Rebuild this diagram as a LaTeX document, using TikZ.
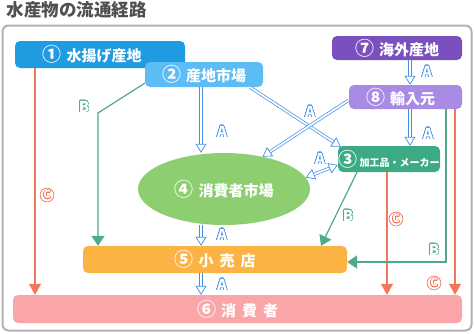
\documentclass[tikz,border=0pt]{standalone}
\usepackage{fontspec}
\setmainfont{Noto Sans CJK JP}
\usepackage[copies]{contour}
\contourlength{0.5pt}
\usetikzlibrary{arrows.meta,shapes.geometric,calc}
\definecolor{fbBlue}{HTML}{1E9BE1}
\definecolor{fbSky}{HTML}{5CBDF6}
\definecolor{fbPurple}{HTML}{7A50BE}
\definecolor{fbLilac}{HTML}{A98AE4}
\definecolor{fbGreen}{HTML}{3CAA84}
\definecolor{fbLeaf}{HTML}{8DCF70}
\definecolor{fbOrange}{HTML}{FBB444}
\definecolor{fbPink}{HTML}{FAA6A8}
\definecolor{fbRed}{HTML}{F3775A}
\definecolor{fbLine}{HTML}{4FAA86}
\definecolor{fbA}{HTML}{3F8FE6}
\definecolor{fbInk}{HTML}{505050}
\newcommand\cnum[1]{{\fontsize{19}{16}\selectfont #1}\hspace{5pt}}

\begin{document}
\begin{tikzpicture}[x=1pt,y=-1pt,
  stage/.style={rounded corners=5pt,text=white,inner sep=0pt,
                font=\bfseries\fontsize{15}{16}\selectfont},
  market/.style={ellipse,fill=fbLeaf,text=white,inner sep=0pt,
                 font=\bfseries\fontsize{15}{16}\selectfont},
  cline/.style={draw=fbRed,line width=1.2pt,-{Triangle[length=11pt,width=12pt]}},
  bline/.style={draw=fbLine,line width=1.2pt,-{Triangle[length=10pt,width=13pt]}},
  aline/.style={draw=fbA,line width=0.7pt,double=white,double distance=1.8pt,
                -{Triangle[open,length=9pt,width=11pt]}},
  lblA/.style={text=white,font=\bfseries\fontsize{15}{16}\selectfont,inner sep=1pt},
  lblC/.style={circle,draw=fbRed,line width=0.7pt,text=white,inner sep=0.8pt,
               font=\bfseries\fontsize{11}{12}\selectfont},
]
\useasboundingbox (0,0) rectangle (474,333);
\node[rounded corners=6pt,draw=gray!60,line width=2pt,fill=white,
      minimum width=469,minimum height=305] (panel) at (237,178) {};
\node[anchor=west,text=fbInk,font=\bfseries\fontsize{17.5}{19}\selectfont] (title) at (3,10) {水産物の流通経路};

% stages
\node[stage,fill=fbBlue,minimum width=170,minimum height=27] (one) at (100,54.5) {\cnum{①}水揚げ産地\hspace*{16pt}};
\node[stage,fill=fbSky,minimum width=118,minimum height=25] (two) at (204,74.5) {\cnum{②}産地市場};
\node[stage,fill=fbPurple,minimum width=130,minimum height=24] (seven) at (397,48) {\cnum{⑦}海外産地};
\node[stage,fill=fbLilac,minimum width=113,minimum height=24] (eight) at (405.5,97) {\cnum{⑧}輸入元\hspace*{10pt}};
\node[stage,fill=fbGreen,minimum width=102,minimum height=26] (three) at (389,159)
  {{\fontsize{19}{16}\selectfont ③}\hspace{2pt}{\fontsize{10}{11}\selectfont 加工品・メーカー}};
\node[market,minimum width=172,minimum height=72] (four) at (224,189) {\cnum{④}消費者市場};
\node[stage,fill=fbOrange,minimum width=264,minimum height=27] (five) at (215,259.5)
  {\cnum{⑤}小\hspace{6pt}売\hspace{6pt}店};
\node[stage,fill=fbPink,minimum width=449,minimum height=28] (six) at (237.5,309)
  {\cnum{⑥}消\hspace{6pt}費\hspace{6pt}者};

% C routes
\draw[cline] ([xshift=-65pt]one.south) coordinate (c1) -- (c1 |- six.north);
\draw[cline] ([xshift=-2pt]three.south) coordinate (c3) -- (c3 |- six.north);
\draw[cline] ([xshift=49.5pt]eight.south) coordinate (c8) -- (c8 |- six.north);
% B routes
\coordinate (bk) at (98,113);
\draw[bline] ([yshift=4pt]two.south west) -- (bk) -- (bk |- five.north);
\draw[bline] ([xshift=-32pt]three.south) -- ([xshift=106pt]five.north);
\draw[bline] ([xshift=40.5pt]eight.south) |- ([yshift=-2.5pt]five.east);
% A routes
\draw[aline] ([xshift=-3pt]two.south) coordinate (a2) -- (a2 |- four.north);
\draw[aline] ([xshift=46pt]two.south) -- ([xshift=3pt,yshift=-1pt]three.north west);
\draw[aline] ([yshift=-3pt]eight.west) -- (four.40);
\draw[aline] ([xshift=13pt]seven.south) -- ([xshift=4.5pt]eight.north);
\draw[aline] ([xshift=4.5pt]eight.south) -- ([xshift=21pt]three.north);
\draw[aline,{Triangle[open,length=9pt,width=11pt]}-{Triangle[open,length=9pt,width=11pt]}]
  (four.8) -- ([yshift=-6pt]three.west);
\draw[aline] ([xshift=-23pt]four.south) coordinate (a4) -- (a4 |- five.north);
\draw[aline] ([xshift=-14pt]five.south) coordinate (a5) -- (a5 |- six.north);

% route labels
\node[lblA] (la1) at (222,132) {\contour{fbA}{A}};
\node[lblA] (la2) at (310,112) {\contour{fbA}{A}};
\node[lblA] (la3) at (427,72) {\contour{fbA}{A}};
\node[lblA] (la4) at (428,134) {\contour{fbA}{A}};
\node[lblA] (la5) at (320,159) {\contour{fbA}{A}};
\node[lblA] (la6) at (222,235) {\contour{fbA}{A}};
\node[lblA] (la7) at (222,285) {\contour{fbA}{A}};
\node[lblA] (lb1) at (84,107) {\contour{fbLine}{B}};
\node[lblA] (lb2) at (348,216) {\contour{fbLine}{B}};
\node[lblA] (lb3) at (434,250) {\contour{fbLine}{B}};
\node[lblC] (lc1) at (47,195) {\contour{fbRed}{C}};
\node[lblC] (lc2) at (396,219) {\contour{fbRed}{C}};
\node[lblC] (lc3) at (434,283) {\contour{fbRed}{C}};
\end{tikzpicture}
\end{document}
